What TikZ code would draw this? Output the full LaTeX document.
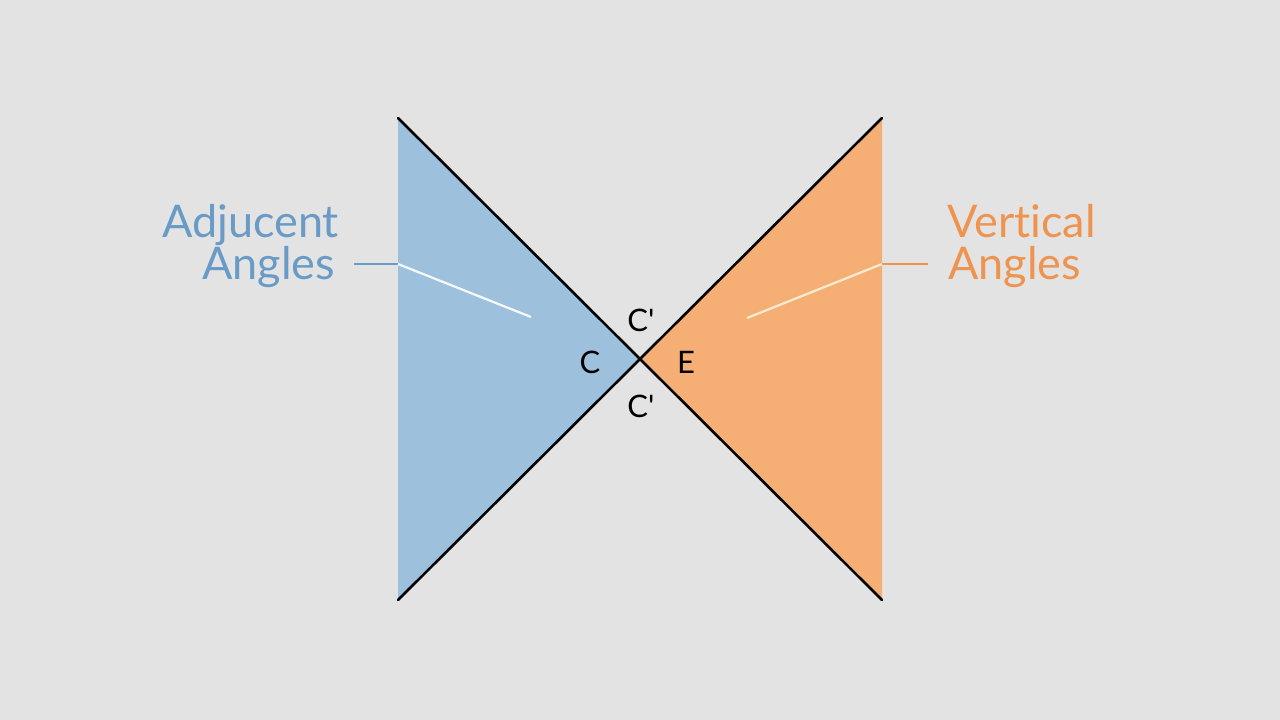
\documentclass[tikz,border=0pt]{standalone}
\usepackage{fontspec}
\setmainfont{Lato}[Ligatures={NoCommon,TeX}]
\newfontfamily\lblfont{Lato}[Ligatures=TeXOff]
\definecolor{bg}{HTML}{E3E3E3}
\definecolor{bluefill}{HTML}{9DC0DD}
\definecolor{orangefill}{HTML}{F5AF74}
\definecolor{bluetext}{HTML}{6A9BC6}
\definecolor{orangetext}{HTML}{EE9450}
\definecolor{creamline}{HTML}{FBEBD2}
\begin{document}
\begin{tikzpicture}[x=1pt,y=-1pt,
  bigtext/.style={font=\fontsize{45}{50}\selectfont, inner sep=0pt, anchor=base west},
  ptlabel/.style={font=\lblfont\fontsize{31}{34}\selectfont, inner sep=0pt, text=black},
  edge/.style={line width=2.6pt, black, line cap=round}]
\useasboundingbox (0,0) rectangle (1280,720);
\fill[bg] (0,0) rectangle (1280,720);
\coordinate (O) at (640,359);
\coordinate (LT) at (398,118);
\coordinate (LB) at (398,600);
\coordinate (RT) at (882,118);
\coordinate (RB) at (882,600);
\fill[bluefill] (LT) -- (O) -- (LB) -- cycle;
\fill[orangefill] (RT) -- (O) -- (RB) -- cycle;
\draw[edge] (LT) -- (RB);
\draw[edge] (RT) -- (LB);
% leaders
\coordinate (la) at (354,264);
\coordinate (lb) at (398,264);
\coordinate (lc) at (531,317);
\draw[bluetext, line width=2pt] (la) -- (lb);
\draw[white!92!bluefill, line width=2.2pt] (lb) -- (lc);
\coordinate (ra) at (928,264);
\coordinate (rb) at (882,264);
\coordinate (rc) at (747,318);
\draw[orangetext, line width=2pt] (ra) -- (rb);
\draw[creamline, line width=2.2pt] (rb) -- (rc);
% texts
\node[bigtext, text=bluetext] (adj) at (162,237) {Adjucent};
\node[bigtext, text=bluetext] (adj2) at (202,279) {Angles};
\node[bigtext, text=orangetext] (ver) at (947,237) {Vertical};
\node[bigtext, text=orangetext] (ver2) at (948,279) {Angles};
% point labels
\node[ptlabel] (c1) at (641,320) {C'};
\node[ptlabel] (c) at (590,362) {C};
\node[ptlabel] (e) at (686,362) {E};
\node[ptlabel] (c2) at (641,406) {C'};
\end{tikzpicture}
\end{document}
